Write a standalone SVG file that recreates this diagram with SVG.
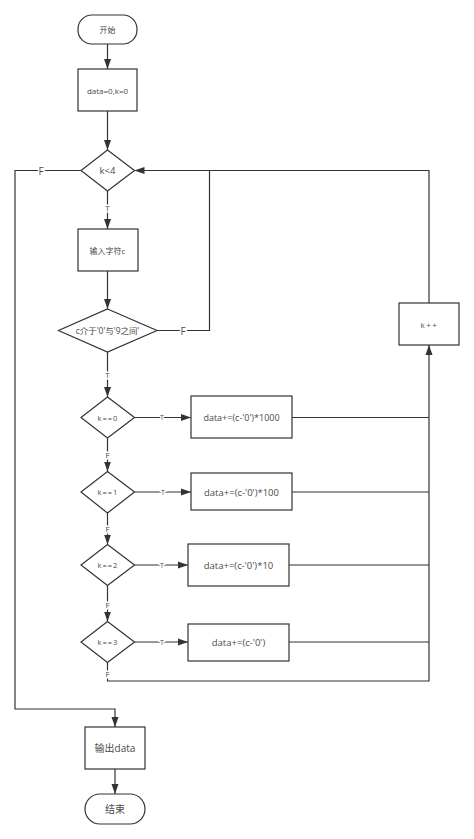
<svg xmlns="http://www.w3.org/2000/svg" width="474" height="839" viewBox="0 0 474 839">
<style>
.shape{fill:#fff;stroke:#333;stroke-width:1.2}
.t{font-family:"Open Sans","Noto Sans CJK SC",sans-serif;fill:#4a4a4a;text-anchor:middle;dominant-baseline:central}
.c{fill:none;stroke:#333;stroke-width:1.2}
.lbl{font-family:"Open Sans","Noto Sans CJK SC",sans-serif;fill:#4a4a4a;text-anchor:middle;dominant-baseline:central;paint-order:stroke;stroke:#fff;stroke-width:3}
.k{letter-spacing:1px}
</style>
<defs>
<marker id="arr" markerUnits="userSpaceOnUse" markerWidth="10" markerHeight="10" viewBox="0 0 10 10" refX="10" refY="5" orient="auto">
<path d="M0,1.5 L10,5 L0,8.5 Z" fill="#333"/>
</marker>
</defs>
<g id="connectors">
<path class="c" d="M107.5,44 V69" marker-end="url(#arr)"/>
<path class="c" d="M107.5,111 V150" marker-end="url(#arr)"/>
<path class="c" d="M107.5,191 V229" marker-end="url(#arr)"/>
<path class="c" d="M107.5,271 V309" marker-end="url(#arr)"/>
<path class="c" d="M107.5,352 V397" marker-end="url(#arr)"/>
<path class="c" d="M157,330.5 H209.5 V170.5"/>
<path class="c" d="M429,303 V170.5 H134.5" marker-end="url(#arr)"/>
<path class="c" d="M81,170.5 H15 V709 H115 V727" marker-end="url(#arr)"/>
<path class="c" d="M115,769 V794" marker-end="url(#arr)"/>
<path class="c" d="M134.5,417.5 H191" marker-end="url(#arr)"/>
<path class="c" d="M292,417.5 H429"/>
<path class="c" d="M107.5,438 V471.5" marker-end="url(#arr)"/>
<path class="c" d="M134.5,492 H191" marker-end="url(#arr)"/>
<path class="c" d="M292,492 H429"/>
<path class="c" d="M107.5,513 V544.5" marker-end="url(#arr)"/>
<path class="c" d="M134.5,565 H188" marker-end="url(#arr)"/>
<path class="c" d="M289,565 H429"/>
<path class="c" d="M107.5,585.5 V621.5" marker-end="url(#arr)"/>
<path class="c" d="M134.5,642 H188" marker-end="url(#arr)"/>
<path class="c" d="M289,642 H429"/>
<path class="c" d="M107.5,662.5 V681 H429 V345" marker-end="url(#arr)"/>
<text class="lbl" x="41" y="170.5" font-size="10">F</text>
<text class="lbl" x="107.5" y="207" font-size="8">T</text>
<text class="lbl" x="183" y="330.5" font-size="10">F</text>
<text class="lbl" x="107.5" y="374" font-size="8">T</text>
<text class="lbl" x="162" y="417.5" font-size="7">T</text>
<text class="lbl" x="107.5" y="454" font-size="8">F</text>
<text class="lbl" x="163" y="492" font-size="7">T</text>
<text class="lbl" x="107.5" y="528" font-size="8">F</text>
<text class="lbl" x="162" y="565" font-size="7">T</text>
<text class="lbl" x="107.5" y="604" font-size="8">F</text>
<text class="lbl" x="162" y="642" font-size="7">T</text>
<text class="lbl" x="107.5" y="673" font-size="8">F</text>
</g>
<g id="start"><rect class="shape" x="78" y="15" width="59" height="29" rx="14"/><text class="t" x="107.5" y="29.5" font-size="8">开始</text></g>
<g id="init"><rect class="shape" x="78" y="69" width="59" height="42"/><text class="t" x="107.5" y="90" font-size="8">data=0,k=0</text></g>
<g id="cond-k4"><polygon class="shape" points="107.5,150 134.5,170.5 107.5,191 81,170.5"/><text class="t" x="107.5" y="170.5" font-size="9.5">k&lt;4</text></g>
<g id="input"><rect class="shape" x="78" y="229" width="60" height="42"/><text class="t" x="107.5" y="250" font-size="8">输入字符c</text></g>
<g id="cond-digit"><polygon class="shape" points="107.5,309 157,330.5 107.5,352 58.5,330.5"/><text class="t" x="107.5" y="330.5" font-size="8.5">c介于'0'与'9之间'</text></g>
<g id="kinc"><rect class="shape" x="399" y="303" width="60" height="42"/><text class="t" x="429.5" y="324" font-size="8" letter-spacing="1.5">k++</text></g>
<g id="cond-k0"><polygon class="shape" points="107.5,397 134.5,417.5 107.5,438 81,417.5"/><text class="t k" x="108" y="417.5" font-size="7.5">k==0</text></g>
<g id="op1000"><rect class="shape" x="191" y="396" width="101" height="42"/><text class="t" x="241.5" y="417" font-size="9">data+=(c-'0')*1000</text></g>
<g id="cond-k1"><polygon class="shape" points="107.5,471.5 134.5,492 107.5,513 81,492"/><text class="t k" x="108" y="492" font-size="7.5">k==1</text></g>
<g id="op100"><rect class="shape" x="191" y="473" width="101" height="37"/><text class="t" x="241.5" y="492" font-size="9.5">data+=(c-'0')*100</text></g>
<g id="cond-k2"><polygon class="shape" points="107.5,544.5 134.5,565 107.5,585.5 81,565"/><text class="t k" x="108" y="565" font-size="7.5">k==2</text></g>
<g id="op10"><rect class="shape" x="188" y="544" width="101" height="42"/><text class="t" x="238.5" y="565" font-size="9.5">data+=(c-'0')*10</text></g>
<g id="cond-k3"><polygon class="shape" points="107.5,621.5 134.5,642 107.5,662.5 81,642"/><text class="t k" x="108" y="642" font-size="7.5">k==3</text></g>
<g id="op1"><rect class="shape" x="188" y="624" width="101" height="37"/><text class="t" x="238.5" y="642.5" font-size="9.5">data+=(c-'0')</text></g>
<g id="output"><rect class="shape" x="85" y="727" width="60" height="42"/><text class="t" x="115" y="748" font-size="10">输出data</text></g>
<g id="end"><rect class="shape" x="85" y="794" width="60" height="30" rx="15"/><text class="t" x="115" y="809" font-size="10">结束</text></g>
</svg>
